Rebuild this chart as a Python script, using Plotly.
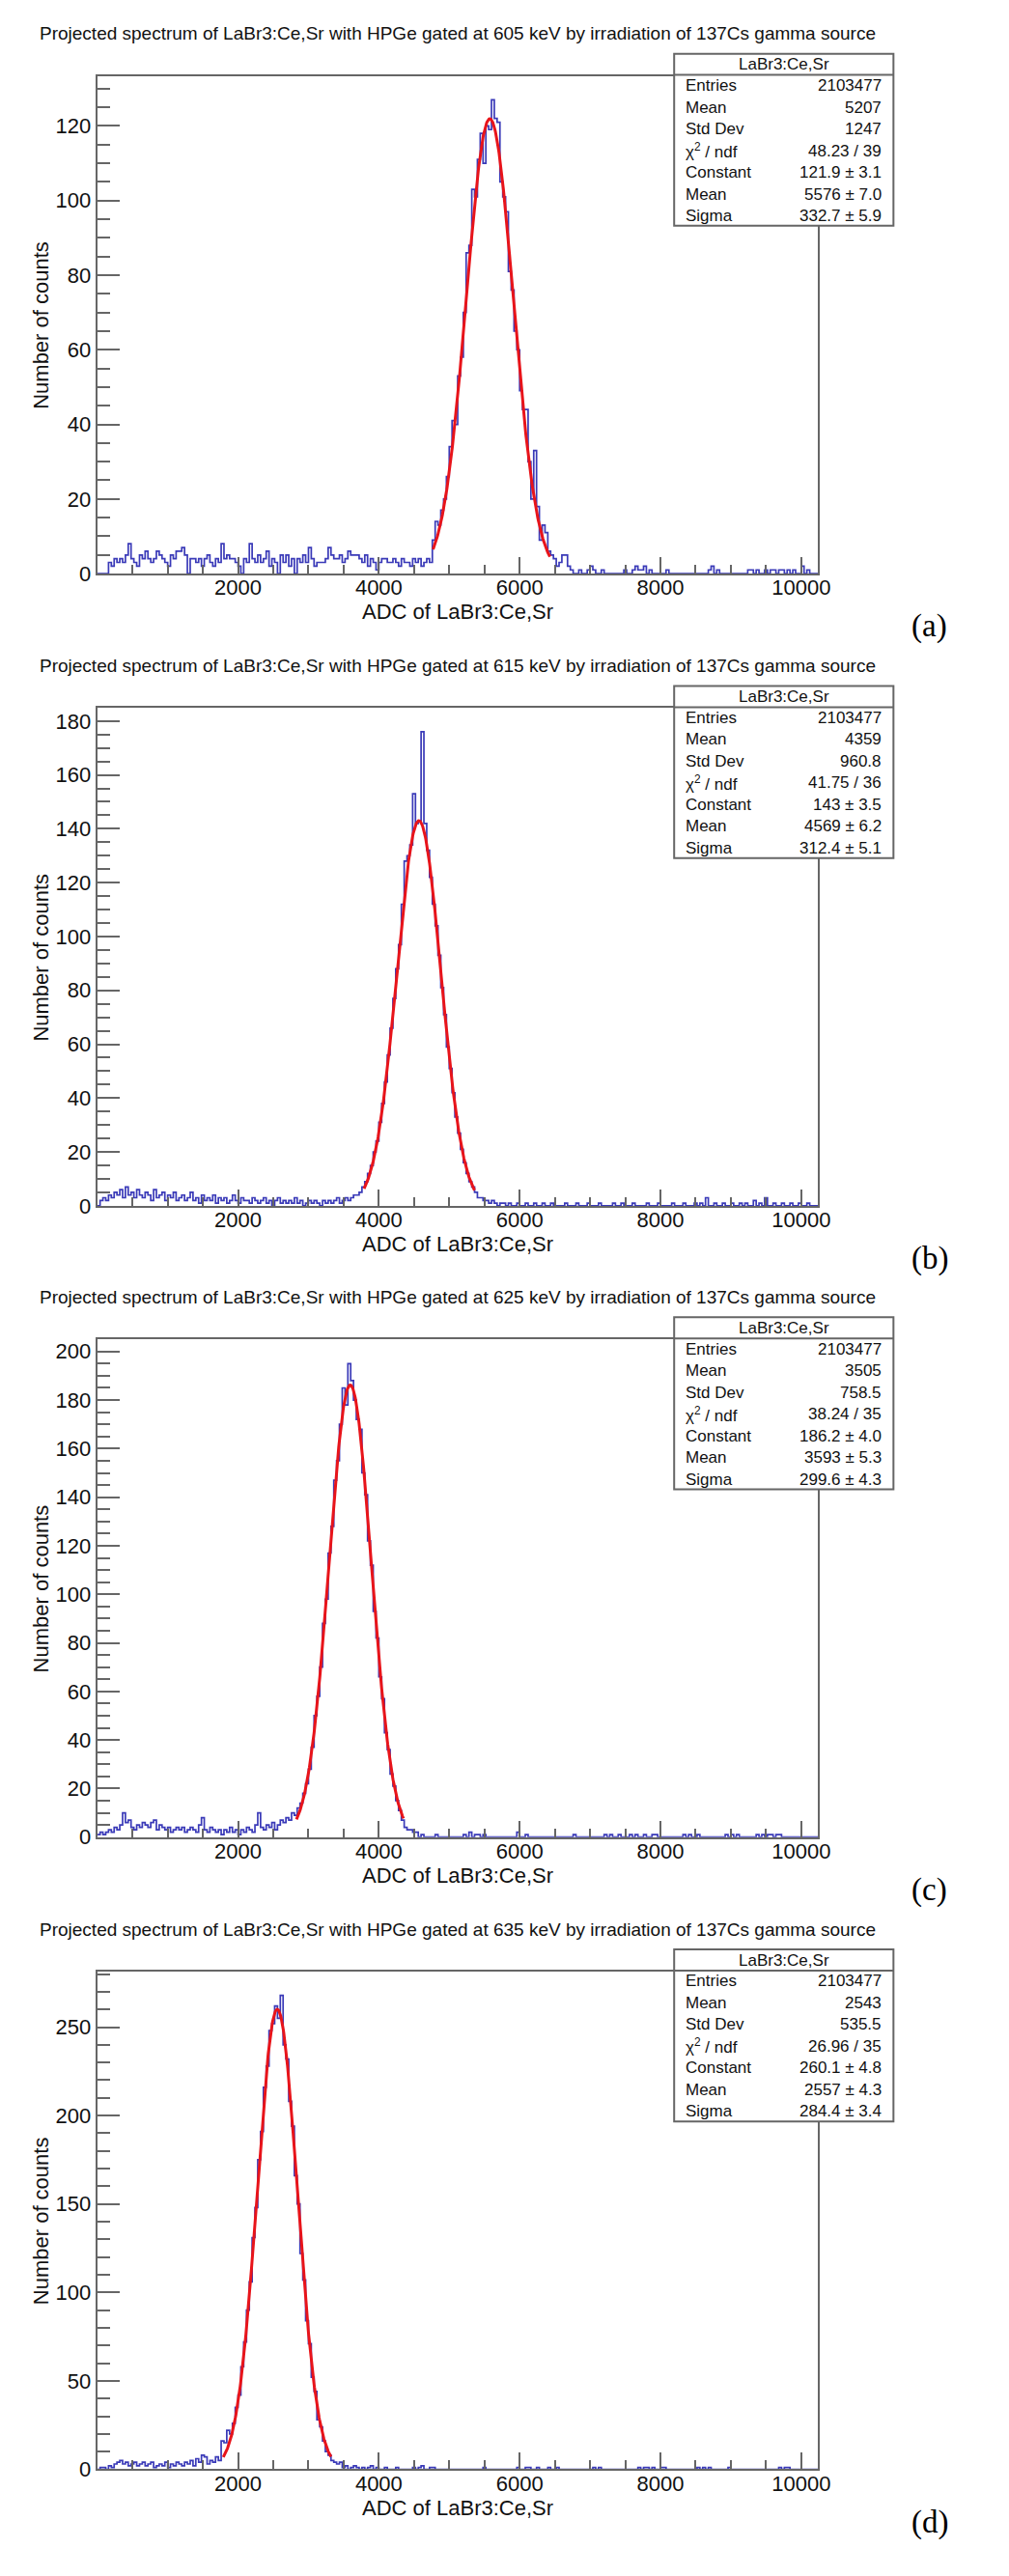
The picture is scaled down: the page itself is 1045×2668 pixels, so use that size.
import numpy as np
import plotly.graph_objects as go

W, H = 1045, 2668

# ---------------- data ----------------
BIN_WIDTH = 40
X_MAX = 10240
gate_keV = [605, 615, 625, 635]
panel_tags = ["(a)", "(b)", "(c)", "(d)"]

counts_a = [
    0, 0, 0, 0, 3, 2, 4, 3, 4, 3, 5, 8, 4, 3, 2, 5,
    4, 6, 4, 3, 4, 6, 5, 4, 3, 2, 5, 4, 6, 6, 7, 5,
    0, 4, 4, 3, 4, 2, 4, 5, 3, 2, 4, 3, 8, 4, 5, 4,
    4, 3, 2, 0, 4, 3, 8, 4, 3, 5, 3, 4, 6, 2, 4, 3,
    0, 5, 3, 5, 2, 4, 0, 4, 3, 5, 3, 7, 4, 2, 3, 3,
    3, 4, 7, 5, 4, 4, 5, 3, 4, 6, 5, 5, 5, 4, 3, 5,
    2, 4, 3, 1, 3, 4, 4, 3, 3, 4, 3, 2, 4, 3, 3, 2,
    4, 3, 4, 2, 3, 4, 3, 9, 14, 13, 17, 20, 26, 34, 41, 40,
    53, 58, 70, 86, 88, 103, 101, 111, 118, 110, 120, 119, 127, 122, 121, 105,
    101, 97, 81, 76, 65, 60, 49, 44, 44, 30, 20, 33, 18, 9, 13, 11,
    6, 5, 4, 2, 3, 5, 5, 2, 1, 0, 0, 1, 0, 0, 1, 2,
    1, 0, 0, 1, 0, 0, 0, 0, 0, 0, 0, 1, 0, 0, 1, 2,
    1, 1, 2, 0, 1, 0, 0, 0, 0, 0, 1, 0, 0, 0, 0, 0,
    0, 0, 0, 0, 0, 0, 0, 0, 0, 1, 2, 0, 1, 0, 0, 0,
    0, 0, 0, 0, 0, 0, 0, 1, 1, 0, 1, 0, 0, 1, 0, 1,
    1, 0, 1, 1, 0, 1, 0, 1, 0, 0, 2, 0, 1, 0, 0, 0,
]

counts_b = [
    0, 2, 3, 2, 4, 3, 5, 4, 6, 3, 7, 4, 5, 3, 6, 4,
    3, 5, 4, 2, 6, 3, 4, 5, 2, 4, 3, 5, 2, 3, 4, 2,
    3, 5, 2, 3, 1, 4, 2, 3, 2, 4, 1, 3, 2, 3, 1, 2,
    4, 2, 1, 3, 2, 2, 1, 3, 2, 1, 2, 3, 1, 2, 0, 2,
    3, 1, 2, 1, 2, 1, 3, 1, 2, 0, 1, 2, 1, 2, 1, 0,
    2, 1, 2, 1, 2, 3, 1, 2, 3, 2, 3, 4, 4, 5, 7, 9,
    12, 15, 20, 24, 31, 38, 46, 56, 66, 77, 88, 97, 112, 128, 130, 134,
    153, 142, 143, 176, 142, 132, 122, 112, 104, 93, 81, 71, 59, 51, 42, 33,
    27, 21, 16, 12, 9, 7, 5, 3, 3, 2, 2, 1, 2, 1, 0, 1,
    1, 0, 1, 0, 0, 1, 0, 0, 1, 0, 0, 1, 0, 0, 1, 0,
    0, 1, 0, 0, 0, 0, 1, 0, 0, 0, 1, 0, 0, 0, 1, 0,
    0, 0, 1, 0, 0, 0, 0, 1, 0, 0, 1, 0, 0, 0, 1, 0,
    0, 0, 0, 1, 0, 0, 0, 1, 0, 0, 0, 0, 1, 0, 0, 0,
    1, 0, 0, 0, 1, 0, 1, 0, 3, 0, 0, 1, 0, 0, 1, 0,
    0, 1, 0, 0, 1, 0, 1, 0, 0, 2, 0, 1, 0, 3, 0, 0,
    1, 0, 0, 1, 0, 0, 1, 0, 0, 1, 0, 0, 1, 0, 0, 0,
]

counts_c = [
    1, 2, 1, 2, 3, 2, 4, 3, 5, 10, 6, 7, 4, 3, 5, 4,
    6, 5, 4, 6, 7, 3, 5, 4, 3, 4, 2, 3, 4, 3, 4, 2,
    3, 4, 3, 2, 5, 8, 3, 2, 4, 3, 2, 3, 1, 3, 2, 4,
    2, 3, 1, 3, 2, 4, 3, 2, 5, 10, 4, 3, 5, 4, 6, 3,
    5, 7, 6, 8, 7, 10, 9, 12, 14, 18, 22, 28, 37, 50, 58, 70,
    88, 98, 117, 128, 147, 155, 170, 185, 178, 195, 188, 180, 172, 168, 150, 141,
    122, 112, 93, 82, 66, 57, 43, 36, 26, 21, 15, 11, 7, 4, 3, 3,
    2, 2, 0, 1, 0, 0, 0, 0, 1, 0, 0, 0, 0, 0, 0, 0,
    0, 0, 1, 0, 2, 0, 1, 1, 0, 1, 0, 0, 0, 0, 0, 0,
    0, 0, 0, 0, 0, 2, 0, 0, 1, 0, 0, 0, 0, 0, 0, 0,
    0, 0, 0, 0, 0, 0, 0, 0, 0, 1, 0, 0, 0, 0, 0, 0,
    0, 0, 0, 0, 1, 0, 1, 0, 0, 1, 0, 0, 0, 1, 0, 1,
    0, 0, 1, 0, 0, 1, 1, 0, 0, 0, 0, 0, 0, 0, 0, 0,
    1, 0, 1, 0, 0, 1, 0, 0, 0, 0, 0, 0, 0, 0, 0, 1,
    0, 1, 0, 1, 0, 0, 0, 0, 0, 0, 1, 0, 1, 0, 1, 1,
    0, 1, 1, 0, 0, 0, 0, 0, 0, 0, 0, 0, 0, 0, 0, 0,
]

counts_d = [
    0, 1, 1, 0, 2, 1, 3, 4, 5, 3, 4, 2, 3, 4, 2, 3,
    4, 2, 3, 4, 1, 2, 3, 2, 4, 1, 3, 2, 4, 3, 2, 4,
    3, 5, 2, 6, 4, 8, 7, 3, 5, 4, 7, 5, 16, 15, 22, 20,
    26, 35, 42, 58, 72, 90, 106, 131, 148, 175, 191, 216, 228, 248, 252, 262,
    255, 268, 240, 232, 208, 194, 166, 150, 122, 107, 84, 71, 52, 44, 28, 24,
    16, 10, 8, 5, 4, 3, 4, 1, 2, 0, 1, 2, 1, 0, 1, 0,
    1, 2, 0, 1, 0, 0, 1, 0, 0, 0, 1, 0, 0, 0, 0, 0,
    1, 0, 1, 2, 0, 0, 1, 1, 0, 0, 0, 0, 0, 0, 0, 0,
    0, 0, 0, 0, 0, 0, 0, 0, 0, 1, 0, 0, 0, 0, 0, 0,
    0, 0, 0, 0, 0, 1, 0, 0, 1, 1, 0, 0, 1, 0, 0, 0,
    1, 0, 0, 1, 0, 0, 0, 0, 0, 0, 0, 0, 0, 0, 0, 0,
    1, 0, 1, 0, 0, 0, 0, 0, 0, 0, 0, 0, 0, 0, 0, 0,
    1, 0, 1, 1, 0, 1, 0, 0, 1, 1, 0, 0, 0, 0, 0, 0,
    0, 0, 0, 0, 0, 1, 0, 1, 0, 1, 0, 0, 0, 0, 0, 0,
    1, 0, 0, 0, 0, 0, 0, 0, 0, 0, 0, 0, 0, 0, 0, 0,
    0, 0, 1, 0, 1, 1, 0, 0, 0, 0, 0, 0, 0, 0, 0, 0,
]

# Gaussian fit parameters (constant, mean, sigma) and fit ranges
fit_const = [121.9, 143.0, 186.2, 260.1]
fit_mean = [5576, 4569, 3593, 2557]
fit_sigma = [332.7, 312.4, 299.6, 284.4]
fit_lo = [4770, 3790, 2830, 1790]
fit_hi = [6430, 5360, 4350, 3320]

# statistics boxes
stat_entries = ["2103477", "2103477", "2103477", "2103477"]
stat_mean = ["5207", "4359", "3505", "2543"]
stat_std = ["1247", "960.8", "758.5", "535.5"]
stat_chi2 = ["48.23 / 39", "41.75 / 36", "38.24 / 35", "26.96 / 35"]
stat_const = ["121.9 ± 3.1", "143 ± 3.5", "186.2 ± 4.0", "260.1 ± 4.8"]
stat_fmean = ["5576 ± 7.0", "4569 ± 6.2", "3593 ± 5.3", "2557 ± 4.3"]
stat_sigma = ["332.7 ± 5.9", "312.4 ± 5.1", "299.6 ± 4.3", "284.4 ± 3.4"]

y_max = [133.4, 184.8, 205.0, 281.4]
y_major = [20, 20, 20, 50]
y_minor = [5, 5, 5, 10]

x_major_ticks = [2000, 4000, 6000, 8000, 10000]

all_counts = [counts_a, counts_b, counts_c, counts_d]
for c in all_counts:
    if len(c) != 256:
        raise ValueError("bad length %d" % len(c))

# ---------------- layout helpers ----------------
OFFS = [0, 658, 1315, 1973]
PL, PR, PT, PB = 102, 858, 79, 597


def fx(x):
    return x / W


def fy(y):
    return 1 - y / H


FRAME = "#666666"
TXT = "#111111"
SANS = "Liberation Sans, Arial, sans-serif"

fig = go.Figure()
annotations = []
shapes = []
layout_axes = {}

edges = [i * BIN_WIDTH for i in range(257)]

for k in range(4):
    off = OFFS[k]
    xa = "x" if k == 0 else "x%d" % (k + 1)
    ya = "y" if k == 0 else "y%d" % (k + 1)
    xkey = "xaxis" if k == 0 else "xaxis%d" % (k + 1)
    ykey = "yaxis" if k == 0 else "yaxis%d" % (k + 1)

    cnt = all_counts[k]
    fig.add_trace(go.Scatter(
        x=edges, y=list(cnt) + [cnt[-1]], mode="lines", line_shape="hv",
        line=dict(color="#3a3ab8", width=1.7), xaxis=xa, yaxis=ya,
        showlegend=False, hoverinfo="skip"))

    xf = np.linspace(fit_lo[k], fit_hi[k], 300)
    yf = fit_const[k] * np.exp(-0.5 * ((xf - fit_mean[k]) / fit_sigma[k]) ** 2)
    fig.add_trace(go.Scatter(
        x=xf, y=yf, mode="lines", line=dict(color="#e8141a", width=3),
        xaxis=xa, yaxis=ya, showlegend=False, hoverinfo="skip"))

    x_minor = [v for v in range(500, X_MAX, 500) if v not in x_major_ticks]
    yt = list(range(0, int(y_max[k]) + 1, y_major[k]))
    ym = [v for v in range(y_minor[k], int(y_max[k]) + 1, y_minor[k]) if v % y_major[k] != 0]

    layout_axes[xkey] = dict(
        domain=[fx(PL), fx(PR)], range=[0, X_MAX], anchor=ya,
        showline=True, linecolor=FRAME, linewidth=2, mirror=True,
        showgrid=False, zeroline=False,
        tickmode="array", tickvals=x_major_ticks, ticktext=[str(v) for v in x_major_ticks],
        ticks="inside", ticklen=17, tickwidth=1.5, tickcolor=FRAME,
        ticklabelstandoff=-6,
        minor=dict(tickmode="array", tickvals=x_minor, ticks="inside", ticklen=9,
                   tickwidth=1.5, tickcolor=FRAME, showgrid=False),
        tickfont=dict(family=SANS, size=22, color=TXT),
    )
    layout_axes[ykey] = dict(
        domain=[fy(PB + off), fy(PT + off)], range=[0, y_max[k]], anchor=xa,
        showline=True, linecolor=FRAME, linewidth=2, mirror=True,
        showgrid=False, zeroline=False,
        tickmode="array", tickvals=yt, ticktext=[str(v) for v in yt],
        ticks="inside", ticklen=23, tickwidth=1.5, tickcolor=FRAME,
        minor=dict(tickmode="array", tickvals=ym, ticks="inside", ticklen=13,
                   tickwidth=1.5, tickcolor=FRAME, showgrid=False),
        tickfont=dict(family=SANS, size=22, color=TXT),
    )

    # title
    annotations.append(dict(
        text="Projected spectrum of LaBr3:Ce,Sr with HPGe gated at %d keV by irradiation of 137Cs gamma source" % gate_keV[k],
        x=fx(480), y=fy(35 + off), xref="paper", yref="paper", xanchor="center", yanchor="middle",
        showarrow=False, font=dict(family=SANS, size=19, color=TXT)))
    # axis titles
    annotations.append(dict(
        text="ADC of LaBr3:Ce,Sr", x=fx(480), y=fy(637 + off), xref="paper", yref="paper",
        xanchor="center", yanchor="middle", showarrow=False,
        font=dict(family=SANS, size=22, color=TXT)))
    annotations.append(dict(
        text="Number of counts", x=fx(43), y=fy(338 + off), xref="paper", yref="paper",
        xanchor="center", yanchor="middle", textangle=-90, showarrow=False,
        font=dict(family=SANS, size=22, color=TXT)))
    # panel tag
    annotations.append(dict(
        text=panel_tags[k], x=fx(975), y=fy(652 + off), xref="paper", yref="paper",
        xanchor="center", yanchor="middle", showarrow=False,
        font=dict(family="Liberation Serif, Times New Roman, serif", size=33, color="#000")))

    # stats box
    shapes.append(dict(type="rect", xref="paper", yref="paper",
                       x0=fx(707), x1=fx(937), y0=fy(235 + off), y1=fy(56 + off),
                       fillcolor="white", line=dict(color=FRAME, width=2), layer="above"))
    shapes.append(dict(type="line", xref="paper", yref="paper",
                       x0=fx(707), x1=fx(937), y0=fy(78 + off), y1=fy(78 + off),
                       line=dict(color=FRAME, width=2), layer="above"))
    annotations.append(dict(
        text="LaBr3:Ce,Sr", x=fx(822), y=fy(67 + off), xref="paper", yref="paper",
        xanchor="center", yanchor="middle", showarrow=False,
        font=dict(family=SANS, size=17, color=TXT)))
    labels = ["Entries", "Mean", "Std Dev", "χ<sup>2</sup> / ndf", "Constant", "Mean", "Sigma"]
    values = [stat_entries[k], stat_mean[k], stat_std[k], stat_chi2[k],
              stat_const[k], stat_fmean[k], stat_sigma[k]]
    for j, (lab, val) in enumerate(zip(labels, values)):
        yy = 89 + 22.6 * j + off
        annotations.append(dict(
            text=lab, x=fx(717), y=fy(yy), xref="paper", yref="paper",
            xanchor="left", yanchor="middle", showarrow=False,
            font=dict(family=SANS, size=17, color=TXT)))
        annotations.append(dict(
            text=val, x=fx(927), y=fy(yy), xref="paper", yref="paper",
            xanchor="right", yanchor="middle", showarrow=False,
            font=dict(family=SANS, size=17, color=TXT)))

fig.update_layout(
    width=W, height=H, margin=dict(l=0, r=0, t=0, b=0),
    paper_bgcolor="white", plot_bgcolor="white",
    annotations=annotations, shapes=shapes, **layout_axes)

fig.write_html("out.html")
